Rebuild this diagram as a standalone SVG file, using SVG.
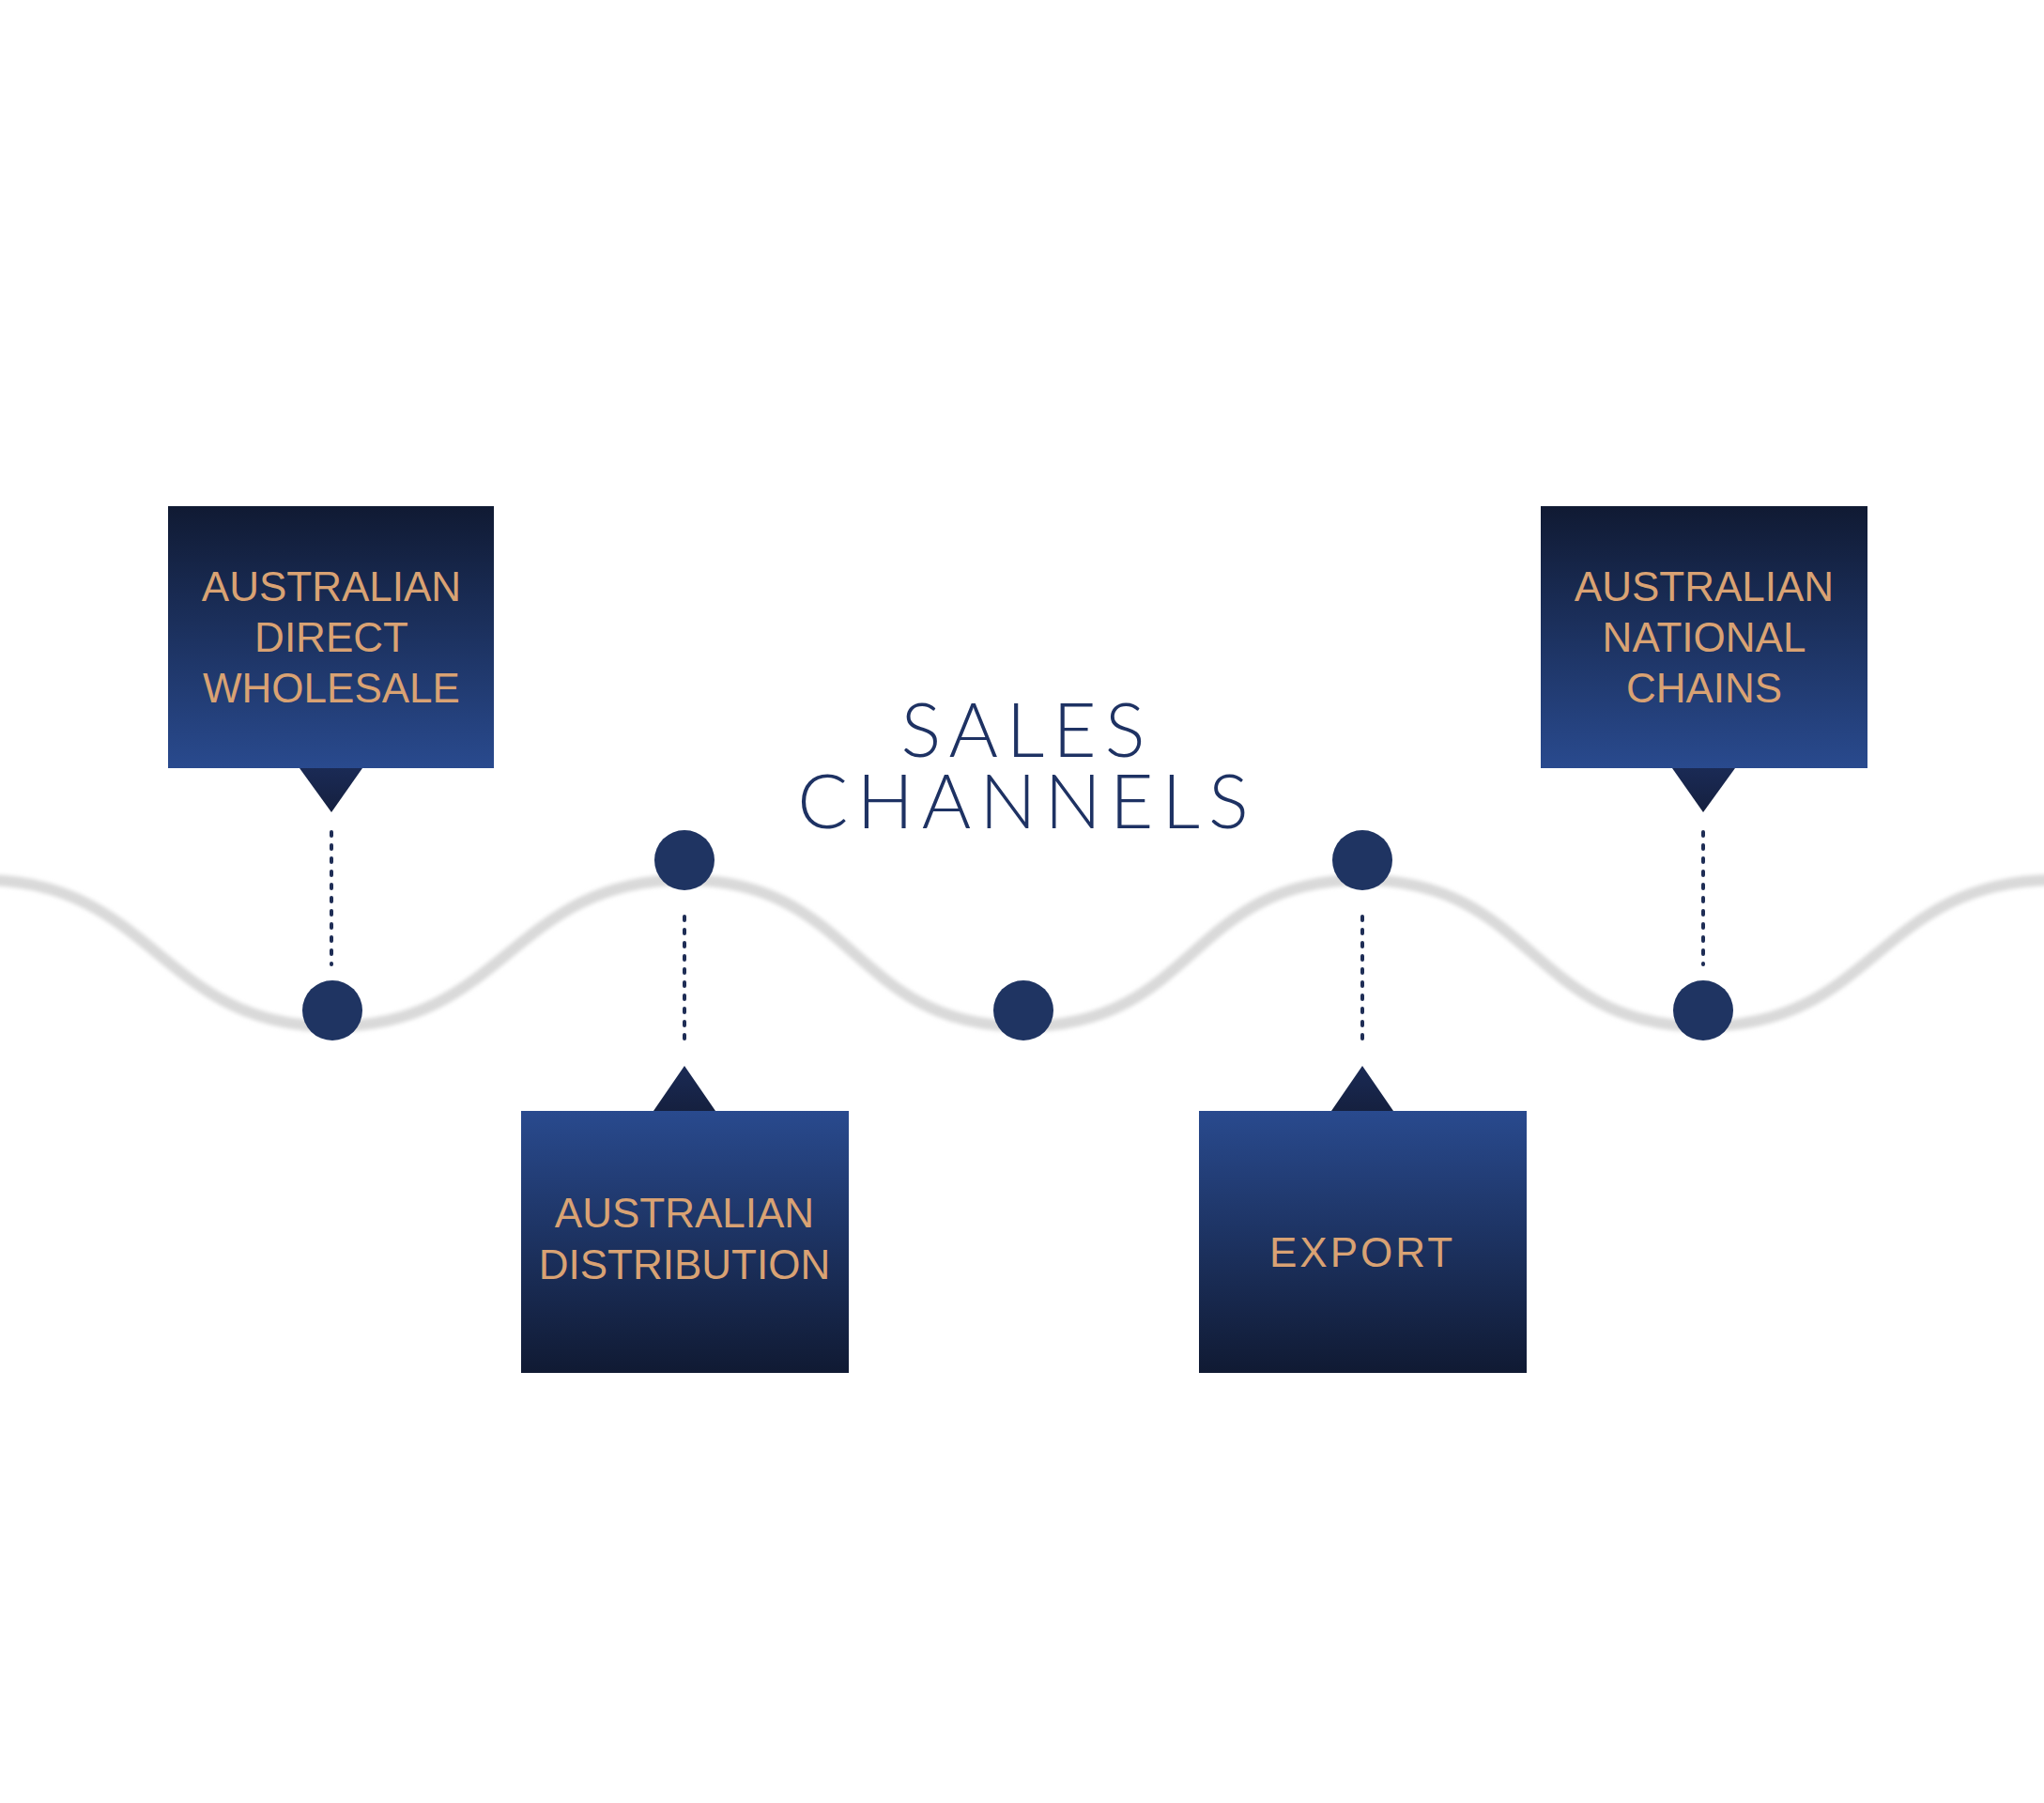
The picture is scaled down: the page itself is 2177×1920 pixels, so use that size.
<svg xmlns="http://www.w3.org/2000/svg" width="2177" height="1920" viewBox="0 0 2177 1920">
<defs>
<linearGradient id="gDown" x1="0" y1="0" x2="0" y2="1"><stop offset="0" stop-color="#101a33"/><stop offset="1" stop-color="#294a8e"/></linearGradient>
<linearGradient id="gUp" x1="0" y1="1" x2="0" y2="0"><stop offset="0" stop-color="#101a33"/><stop offset="1" stop-color="#294a8e"/></linearGradient>
<linearGradient id="tri" x1="0" y1="0" x2="0" y2="1"><stop offset="0" stop-color="#1a2a55"/><stop offset="1" stop-color="#15203f"/></linearGradient>
<filter id="soft"><feGaussianBlur stdDeviation="2"/></filter>
</defs>
<style>
.lbl{font-family:"Liberation Sans",Arial,sans-serif;font-size:44px;fill:#d9a273;text-anchor:middle}
.title{font-family:Lato,"Liberation Sans",Arial,sans-serif;font-weight:300;font-size:80px;fill:#1e3263;text-anchor:middle;letter-spacing:9px}
.dot{stroke:#1e2d55;stroke-width:4;stroke-dasharray:4 10;stroke-linecap:round}
.node{fill:#1f3462}
</style>
<rect width="2177" height="1920" fill="#fff"/>
<g id="wave"><path d="M -20,937 C 165,937 170,1093 354,1093 S 545,937 729,937 S 906,1093 1090,1093 S 1266,937 1450,937 S 1630,1093 1814,1093 S 2000,937 2190,937" fill="none" stroke="#d9d9d9" stroke-width="12" filter="url(#soft)"/></g>
<g id="connectors">
<line class="dot" x1="353" y1="886" x2="353" y2="1027"/>
<line class="dot" x1="729" y1="976" x2="729" y2="1115"/>
<line class="dot" x1="1451" y1="976" x2="1451" y2="1115"/>
<line class="dot" x1="1814" y1="886" x2="1814" y2="1027"/>
</g>
<g id="points">
<circle class="node" cx="354" cy="1076" r="32"/>
<circle class="node" cx="729" cy="916" r="32"/>
<circle class="node" cx="1090" cy="1076" r="32"/>
<circle class="node" cx="1451" cy="916" r="32"/>
<circle class="node" cx="1814" cy="1076" r="32"/>
</g>
<g id="title"><text class="title" x="1094" y="806">SALES</text><text class="title" x="1094" y="882">CHANNELS</text></g>
<g id="n1">
<rect x="179" y="539" width="347" height="279" fill="url(#gDown)"/>
<polygon points="319,818 386,818 353,865" fill="url(#tri)"/>
<text class="lbl" x="353" y="640">AUSTRALIAN</text><text class="lbl" x="353" y="694">DIRECT</text><text class="lbl" x="353" y="748">WHOLESALE</text>
</g>
<g id="n2">
<rect x="555" y="1183" width="349" height="279" fill="url(#gUp)"/>
<polygon points="696,1183 762,1183 729,1135" fill="url(#tri)"/>
<text class="lbl" x="729" y="1307">AUSTRALIAN</text><text class="lbl" x="729" y="1362">DISTRIBUTION</text>
</g>
<g id="n3">
<rect x="1277" y="1183" width="349" height="279" fill="url(#gUp)"/>
<polygon points="1418,1183 1484,1183 1451,1135" fill="url(#tri)"/>
<text class="lbl" x="1451" y="1349" style="letter-spacing:3px">EXPORT</text>
</g>
<g id="n4">
<rect x="1641" y="539" width="348" height="279" fill="url(#gDown)"/>
<polygon points="1781,818 1848,818 1814,865" fill="url(#tri)"/>
<text class="lbl" x="1815" y="640">AUSTRALIAN</text><text class="lbl" x="1815" y="694">NATIONAL</text><text class="lbl" x="1815" y="748">CHAINS</text>
</g>
</svg>
